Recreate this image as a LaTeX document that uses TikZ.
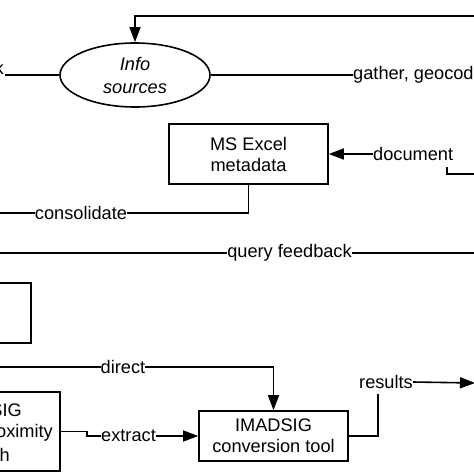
\documentclass[tikz,border=0pt]{standalone}
\usepackage{fontspec}
\setmainfont{Liberation Sans}
\usetikzlibrary{shapes.geometric,arrows.meta}
\tikzset{
  line/.style={line width=1.6pt, black},
  arr/.style={line width=1.6pt, black, -{Triangle[length=15pt,width=11pt]}},
  lbl/.style={inner sep=0pt, font=\fontsize{18.2}{22}\selectfont},
  boxnode/.style={draw, line width=1.6pt, rectangle, inner sep=0pt, align=center, font=\fontsize{18.2}{21}\selectfont},
}
\begin{document}
\begin{tikzpicture}[x=1pt,y=-1pt]
\useasboundingbox (0,0) rectangle (474,474);
\fill[white] (0,0) rectangle (474,474);
\clip (0,0) rectangle (474,474);

% nodes
\node[draw, ellipse, line width=1.6pt, minimum width=150pt, minimum height=64pt, inner sep=0pt, align=center,
      font=\fontsize{18.2}{23}\selectfont\itshape] (info) at (135,75) {Info\\sources};
\node[boxnode, minimum width=159pt, minimum height=60pt] (excel) at (248.5,154) {MS Excel\\metadata};
\node[boxnode, minimum width=60pt, minimum height=60pt] (leftbox) at (1,313) {};
\node[boxnode, minimum width=160pt, minimum height=79pt] (prox) at (-20,431.5) {};
\node[lbl, anchor=east] (proxA) at (22,410) {IMADSIG};
\node[lbl, anchor=east] (proxB) at (53,433) {proximity};
\node[lbl, anchor=east] (proxC) at (10,455) {search};
\node[boxnode, minimum width=149pt, minimum height=50pt] (conv) at (273.5,436) {IMADSIG\\conversion tool};

\node[lbl, anchor=east] (fb) at (4,68) {feedback};
\node[lbl, anchor=west] (gather) at (353,75) {gather, geocode};
\node[lbl, anchor=west] (doc) at (373,154) {document};
\node[lbl] (cons) at (81,213) {consolidate};
\node[lbl] (qf) at (289.5,253) {query feedback};
\node[lbl] (direct) at (123,367) {direct};
\node[lbl] (extract) at (128.5,436) {extract};
\node[lbl] (results) at (386,382) {results};

% coordinates
\coordinate (topR) at (480,16);
\coordinate (fbL) at (5,75);
\coordinate (docA) at (447,167);
\coordinate (docR) at (480,174);
\coordinate (consL) at (-5,213);
\coordinate (qL) at (-5,253);
\coordinate (qR) at (480,253);
\coordinate (dL) at (-5,367);
\coordinate (exA) at (87,431.5);
\coordinate (exB) at (87,436);
\coordinate (resA) at (378,394);
\coordinate (resR) at (475,383);

% connectors
\draw[arr] (topR) -| (info.north);
\draw[line] (fbL) -- (info.west);
\draw[line] (info.east) -- (gather.west);
\draw[arr] (doc.west) -- (excel.east);
\draw[line] (docA) |- (docR);
\draw[line] (excel.south) |- (cons.east);
\draw[line] (cons.west) -- (consL);
\draw[line] (qL) -- (qf.west);
\draw[line] (qf.east) -- (qR);
\draw[line] (dL) -- (direct.west);
\draw[arr] (direct.east) -| (conv.north);
\draw[line] (prox.east) -- (exA) -- (exB) -- (extract.west);
\draw[arr] (extract.east) -- (conv.west);
\draw[line] (conv.east) -| (resA);
\draw[arr] (results.east) -- (resR);
\end{tikzpicture}
\end{document}
